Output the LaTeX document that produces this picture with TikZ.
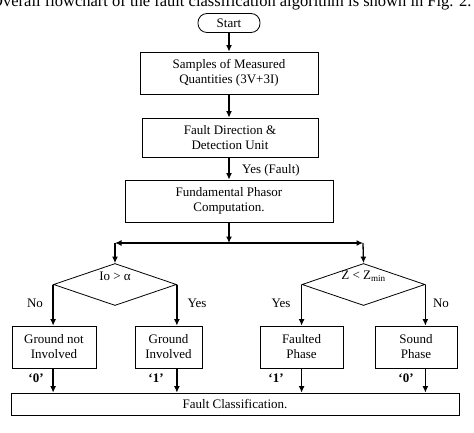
\documentclass[tikz,border=0pt]{standalone}
\usepackage{fontspec}
\setmainfont{Liberation Serif}
\usetikzlibrary{shapes.geometric,arrows.meta}
\tikzset{
  box/.style={draw, line width=0.8pt, rectangle, inner sep=0pt, align=center, font=\fontsize{13}{15}\selectfont},
  diam/.style={draw, line width=0.8pt, diamond, inner sep=0pt},
  txt/.style={inner sep=0pt, font=\fontsize{13}{15}\selectfont},
  arr/.style={line width=1.3pt, -{Latex[length=6.5pt,width=6pt]}},
  ln/.style={line width=1.3pt},
}
\begin{document}
\begin{tikzpicture}[x=1pt,y=-1pt]
\useasboundingbox (0,0) rectangle (474,433);
\clip (0,0) rectangle (474,433);
\node[inner sep=0pt, anchor=base west, font=\fontsize{16.5}{18}\selectfont] (top) at (-9,7) {Overall flowchart of the fault classification algorithm is shown in Fig. 2.};
\node[box, rounded corners=9pt, minimum width=62pt, minimum height=19pt] (start) at (229,23) {Start};
\node[box, minimum width=178pt, minimum height=42pt] (samp) at (229,73) {Samples of Measured\\Quantities (3V+3I)};
\node[box, minimum width=176pt, minimum height=39pt] (fdd) at (230,137.5) {Fault Direction \&\\Detection Unit};
\node[box, minimum width=208pt, minimum height=42pt] (fund) at (229,201) {Fundamental Phasor\\Computation.};
\coordinate (sp) at (229,243);
\coordinate (L) at (115,243);
\coordinate (R) at (363,243);
\node[diam, minimum width=123pt, minimum height=42pt] (d1) at (115,284.5) {};
\node[diam, minimum width=123pt, minimum height=42pt] (d2) at (363.5,284.5) {};
\node[txt] (d1t) at (115,276) {Io > α};
\node[txt] (d2t) at (363.5,276) {Z < Z\textsubscript{min}};
\node[box, minimum width=84pt, minimum height=42pt] (gni) at (54,347) {Ground not\\Involved};
\node[box, minimum width=67pt, minimum height=42pt] (gi) at (168.5,347) {Ground\\Involved};
\node[box, minimum width=83pt, minimum height=42pt] (fp) at (301.5,347) {Faulted\\Phase};
\node[box, minimum width=82pt, minimum height=42pt] (sph) at (416,347) {Sound\\Phase};
\node[box, minimum width=448pt, minimum height=22pt] (fc) at (235,404) {Fault Classification.};
% arrows
\draw[arr] (start) -- (samp);
\draw[arr] (samp) -- (samp.south |- fdd.north);
\draw[arr] (fdd.south -| fund.north) -- (fund);
\node[txt] (yf) at (271,170) {Yes (Fault)};
\draw[arr] (fund) -- (sp);
\draw[arr] (sp) -- (L);
\draw[arr] (sp) -- (R);
\draw[arr] (L) -- (d1.north);
\draw[arr] (R) -- (d2.north);
\draw[arr] (d1.west) -- (d1.west |- gni.north);
\draw[arr] (d1.east) -- (d1.east |- gi.north);
\draw[arr] (d2.west) -- (d2.west |- fp.north);
\draw[arr] (d2.east) -- (d2.east |- sph.north);
\draw[arr] (d1.west |- gni.south) -- (d1.west |- fc.north);
\draw[arr] (d1.east |- gi.south) -- (d1.east |- fc.north);
\draw[arr] (d2.west |- fp.south) -- (d2.west |- fc.north);
\draw[arr] (d2.east |- sph.south) -- (d2.east |- fc.north);
% labels
\node[txt] (no1) at (35,303) {No};
\node[txt] (yes1) at (197,303) {Yes};
\node[txt] (yes2) at (281,303) {Yes};
\node[txt] (no2) at (441,303) {No};
\node[txt, font=\fontsize{13}{15}\selectfont\bfseries] (z1) at (36,378) {‘0’};
\node[txt, font=\fontsize{13}{15}\selectfont\bfseries] (o1) at (156,378) {‘1’};
\node[txt, font=\fontsize{13}{15}\selectfont\bfseries] (o2) at (276,378) {‘1’};
\node[txt, font=\fontsize{13}{15}\selectfont\bfseries] (z2) at (406,378) {‘0’};
\end{tikzpicture}
\end{document}
